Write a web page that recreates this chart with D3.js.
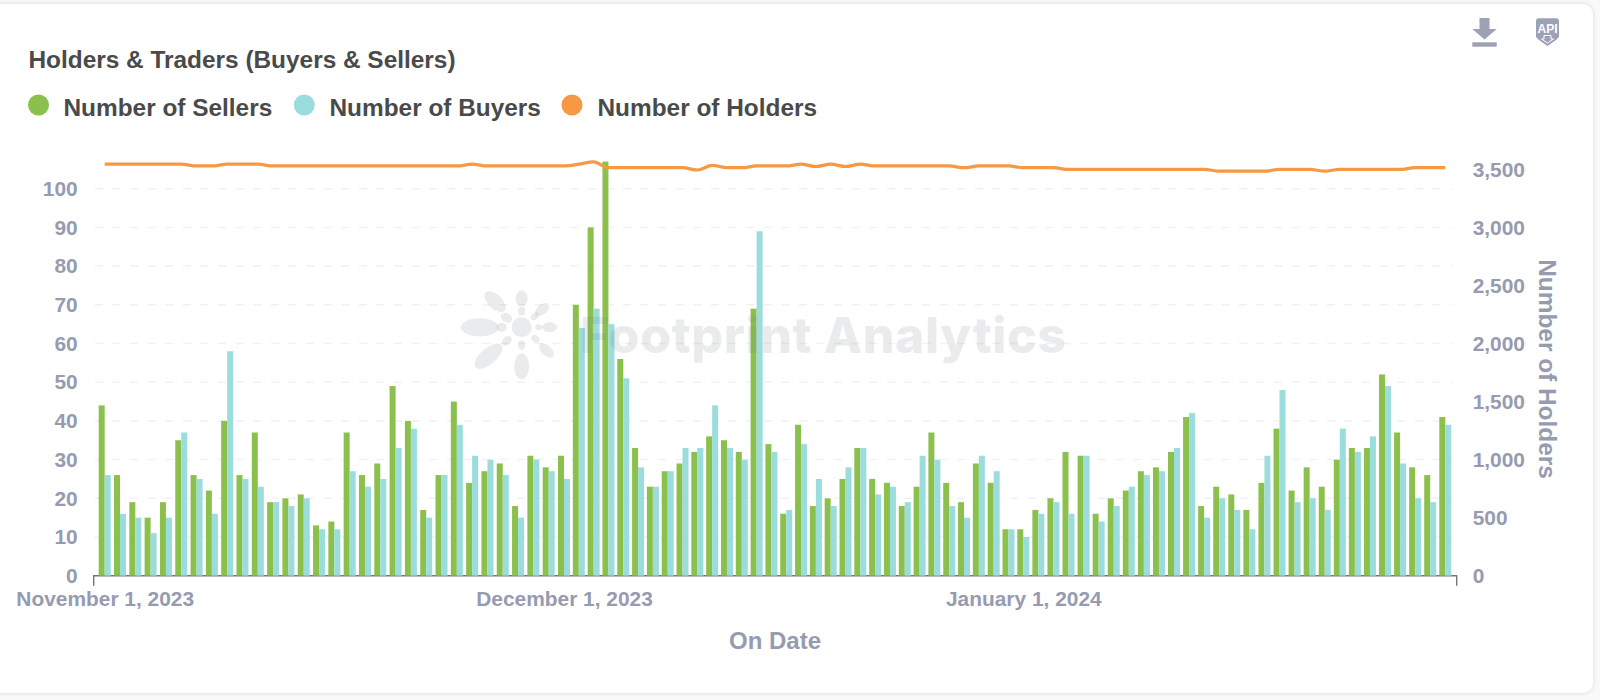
<!DOCTYPE html>
<html>
<head>
<meta charset="utf-8">
<script src="https://cdn.jsdelivr.net/npm/d3@7"></script>
<style>
html, body { margin: 0; padding: 0; background: #f9f9fa; overflow: hidden; }
svg { display: block; font-family: "Liberation Sans", Arial, sans-serif; }
</style>
</head>
<body>
<svg id="chart" width="1600" height="700"></svg>
<script>
var titleText = "Holders & Traders (Buyers & Sellers)";
var seriesNames = ["Number of Sellers", "Number of Buyers", "Number of Holders"];
var seriesColors = ["#8bc04c", "#9bdcdc", "#f79843"];

var sellers = [44, 26, 19, 15, 19, 35, 26, 22, 40, 26, 37, 19, 20, 21, 13, 14, 37, 26, 29, 49, 40, 17, 26, 45, 24, 27, 29, 18, 31, 28,
	31, 70, 90, 107, 56, 33, 23, 27, 29, 32, 36, 35, 32, 69, 34, 16, 39, 18, 20, 25, 33, 25, 24, 18, 23, 37, 24, 19, 29, 24,
	12, 12, 17, 20, 32, 31, 16, 20, 22, 27, 28, 32, 41, 18, 23, 21, 17, 24, 38, 22, 28, 23, 30, 33, 33, 52, 37, 28, 26, 41];
var buyers = [26, 16, 15, 11, 15, 37, 25, 16, 58, 25, 23, 19, 18, 20, 12, 12, 27, 23, 25, 33, 38, 15, 26, 39, 31, 30, 26, 15, 30, 27,
	25, 64, 69, 65, 51, 28, 23, 27, 33, 33, 44, 33, 30, 89, 32, 17, 34, 25, 18, 28, 33, 21, 23, 19, 31, 30, 18, 15, 31, 27,
	12, 10, 16, 19, 16, 31, 14, 18, 23, 26, 27, 33, 42, 15, 20, 17, 12, 31, 48, 19, 20, 17, 38, 32, 36, 49, 29, 20, 19, 39];
var holders = [3550, 3550, 3550, 3550, 3550, 3550, 3535, 3535, 3550, 3550, 3550, 3535, 3535, 3535, 3535, 3535, 3535, 3535, 3535, 3535,
	3535, 3535, 3535, 3535, 3550, 3535, 3535, 3535, 3535, 3535, 3535, 3550, 3570, 3520, 3520, 3520, 3520, 3520, 3520, 3500,
	3540, 3520, 3520, 3535, 3535, 3535, 3550, 3530, 3550, 3530, 3550, 3535, 3535, 3535, 3535, 3535, 3535, 3520, 3535, 3535,
	3535, 3520, 3520, 3520, 3505, 3505, 3505, 3505, 3505, 3505, 3505, 3505, 3505, 3505, 3490, 3490, 3490, 3490, 3505, 3505,
	3505, 3490, 3505, 3505, 3505, 3505, 3505, 3520, 3520, 3520];

var days = d3.timeDay.range(new Date(2023, 10, 1), new Date(2024, 0, 30));
var dateTicks = [new Date(2023, 10, 1), new Date(2023, 11, 1), new Date(2024, 0, 1)];
var leftTicks = [0, 10, 20, 30, 40, 50, 60, 70, 80, 90, 100];
var rightTicks = [0, 500, 1000, 1500, 2000, 2500, 3000, 3500];

var axisColor = "#969bb0";
var textColor = "#4a4a4a";
var y0 = 575.7;
var barW = 6;

var svg = d3.select("#chart");

// the days are not evenly spaced in the original, each month has its own width
var xScale = d3.scaleTime()
	.domain([dateTicks[0], dateTicks[1], dateTicks[2], days[days.length - 1]])
	.range([104.7, 564, 1023.3, 1445.3]);
var yLeft = d3.scaleLinear().domain([0, 100]).range([y0, 188.7]);
var yRight = d3.scaleLinear().domain([0, 3500]).range([y0, 170]);

svg.append("rect")
	.attr("x", -12).attr("y", 4)
	.attr("width", 1605).attr("height", 689)
	.attr("rx", 10)
	.attr("fill", "#fff")
	.style("filter", "drop-shadow(0 0 2px #d6d7dd)");

svg.append("text")
	.attr("x", 28.5).attr("y", 67.5)
	.attr("font-size", 24.4).attr("font-weight", "bold")
	.attr("fill", textColor)
	.text(titleText);

// legend
var legendX = [[38.5, 63.5], [304.3, 329.5], [572, 597.5]];
seriesNames.forEach(function(name, i) {
	svg.append("circle")
		.attr("cx", legendX[i][0]).attr("cy", 105).attr("r", 10.5)
		.attr("fill", seriesColors[i]);
	svg.append("text")
		.attr("x", legendX[i][1]).attr("y", 116)
		.attr("font-size", 24.4).attr("font-weight", "bold")
		.attr("fill", textColor)
		.text(name);
});

// gridlines
svg.append("g").selectAll("line")
	.data(leftTicks.slice(1))
	.enter().append("line")
	.attr("x1", 95).attr("x2", 1452)
	.attr("y1", function(d) { return yLeft(d); })
	.attr("y2", function(d) { return yLeft(d); })
	.attr("stroke", "#f1f1f3")
	.attr("stroke-width", 1.5)
	.attr("stroke-dasharray", "8 9.6");

// left axis
var leftAxis = svg.append("g")
	.attr("transform", "translate(93.7,0)")
	.call(d3.axisLeft(yLeft).tickValues(leftTicks).tickSize(0).tickPadding(16));
leftAxis.select(".domain").remove();

// right axis
var rightAxis = svg.append("g")
	.attr("transform", "translate(1456.7,0)")
	.call(d3.axisRight(yRight).tickValues(rightTicks).tickSize(0).tickPadding(16).tickFormat(d3.format(",")));
rightAxis.select(".domain").remove();

// x axis, line and the two end ticks
var xAxis = svg.append("g")
	.attr("transform", "translate(0," + y0 + ")")
	.call(d3.axisBottom(xScale).tickValues(dateTicks).tickSize(0).tickPadding(15).tickFormat(d3.timeFormat("%B %-d, %Y")));
xAxis.select(".domain").remove();

svg.append("path")
	.attr("d", "M93.7," + (y0 + 10) + "V" + y0 + "H1456.7V" + (y0 + 10))
	.attr("fill", "none")
	.attr("stroke", "#777")
	.attr("stroke-width", 1.4);

svg.selectAll("g text")
	.attr("font-family", "Liberation Sans, Arial, sans-serif")
	.attr("font-size", 20.9)
	.attr("font-weight", "bold")
	.attr("fill", axisColor);

// bars
svg.append("g").selectAll("rect")
	.data(sellers)
	.enter().append("rect")
	.attr("x", function(d, i) { return xScale(days[i]) - barW; })
	.attr("y", function(d) { return yLeft(d); })
	.attr("width", barW)
	.attr("height", function(d) { return y0 - yLeft(d); })
	.attr("fill", seriesColors[0]);

svg.append("g").selectAll("rect")
	.data(buyers)
	.enter().append("rect")
	.attr("x", function(d, i) { return xScale(days[i]); })
	.attr("y", function(d) { return yLeft(d); })
	.attr("width", barW)
	.attr("height", function(d) { return y0 - yLeft(d); })
	.attr("fill", seriesColors[1]);

// holders line
var line = d3.line()
	.x(function(d, i) { return xScale(days[i]); })
	.y(function(d) { return yRight(d); })
	.curve(d3.curveMonotoneX);

svg.append("path")
	.datum(holders)
	.attr("d", line)
	.attr("fill", "none")
	.attr("stroke", seriesColors[2])
	.attr("stroke-width", 3.2);

// axis titles
svg.append("text")
	.attr("x", 775).attr("y", 649)
	.attr("text-anchor", "middle")
	.attr("font-size", 24).attr("font-weight", "bold")
	.attr("fill", axisColor)
	.text("On Date");

svg.append("text")
	.attr("transform", "translate(1539,369) rotate(90)")
	.attr("text-anchor", "middle")
	.attr("font-size", 24.4).attr("font-weight", "bold")
	.attr("fill", axisColor)
	.text("Number of Holders");

function drawWatermark() {
	var w = svg.append("g").attr("fill", "rgb(120,128,140)").attr("fill-opacity", 0.16);
	var logo = w.append("g").attr("transform", "translate(521.7,327.3)");
	// petals: angle, distance, long radius, short radius
	var petals = [
		[180, 42, 19, 9], [-136, 37, 13, 7], [-90, 29, 8, 6], [-41, 27, 8, 5],
		[0, 28, 7.5, 5], [43, 34, 9, 5], [90, 39, 13, 7.5], [139, 44, 17, 8],
		[-148, 18, 6, 4.5], [-90, 16, 4.5, 3.5], [-40, 17, 4.5, 3.2], [0, 17, 3.5, 3],
		[40, 18, 4.5, 3.5], [90, 18, 5, 3.5], [138, 20, 5.5, 4], [180, 20, 5, 4.5]
	];
	logo.append("circle").attr("r", 10);
	logo.selectAll("ellipse")
		.data(petals)
		.enter().append("ellipse")
		.attr("rx", function(d) { return d[2]; })
		.attr("ry", function(d) { return d[3]; })
		.attr("transform", function(d) { return "rotate(" + d[0] + ") translate(" + d[1] + ",0)"; });
	w.append("text")
		.attr("x", 580).attr("y", 352.5)
		.attr("font-size", 50).attr("font-weight", 800)
		.attr("font-family", "Inter, Liberation Sans, sans-serif")
		.attr("textLength", 486)
		.text("Footprint Analytics");
}
drawWatermark();

function drawIcons() {
	var c = "#9ca1b6";
	// download
	svg.append("path")
		.attr("d", "M1479.5,18H1489.5V29H1496.7L1484.5,39.5L1472.3,29H1479.5Z")
		.attr("fill", c);
	svg.append("rect")
		.attr("x", 1472.3).attr("y", 42.3).attr("width", 24.4).attr("height", 4.4)
		.attr("fill", c);
	// api
	svg.append("path")
		.attr("d", "M1539,18.3H1556A3,3 0 0 1 1559,21.3V37L1556,40L1547.5,46L1539,40L1536,37V21.3A3,3 0 0 1 1539,18.3Z")
		.attr("fill", c);
	svg.append("text")
		.attr("x", 1547.5).attr("y", 32.5)
		.attr("text-anchor", "middle")
		.attr("font-size", 12).attr("font-weight", "bold")
		.attr("fill", "#fff")
		.text("API");
	svg.append("path")
		.attr("d", "M1544,35.5H1551V39H1553.5L1547.5,43L1541.5,39H1544Z")
		.attr("fill", "none")
		.attr("stroke", "#fff")
		.attr("stroke-width", 1);
}
drawIcons();
</script>
</body>
</html>
